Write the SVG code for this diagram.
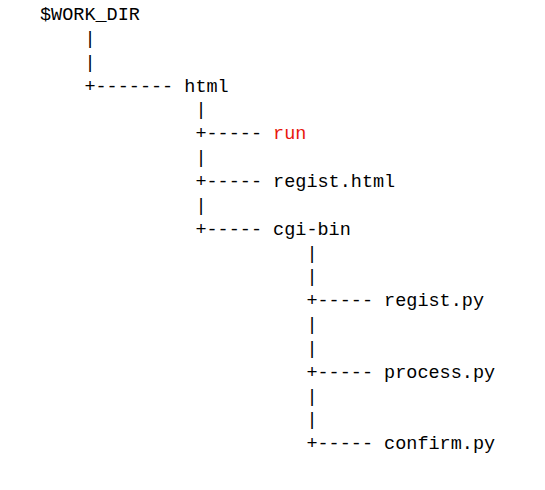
<svg xmlns="http://www.w3.org/2000/svg" width="545" height="490" viewBox="0 0 545 490">
<style>
text { font-family: "Liberation Mono", "DejaVu Sans Mono", monospace; font-size: 18.5px; fill: #000; white-space: pre; }
.red { fill: #e8160c; }
</style>
<rect width="545" height="490" fill="#fff"/>
<g id="connectors">
  <text x="84.4" y="43.8">|</text>
  <text x="84.4" y="67.7">|</text>
  <text x="84.4" y="91.5">+-------</text>
  <text x="195.4" y="115.4">|</text>
  <text x="195.4" y="139.2">+-----</text>
  <text x="195.4" y="163.1">|</text>
  <text x="195.4" y="186.9">+-----</text>
  <text x="195.4" y="210.8">|</text>
  <text x="195.4" y="234.6">+-----</text>
  <text x="306.4" y="258.5">|</text>
  <text x="306.4" y="282.3">|</text>
  <text x="306.4" y="306.2">+-----</text>
  <text x="306.4" y="330">|</text>
  <text x="306.4" y="353.9">|</text>
  <text x="306.4" y="377.7">+-----</text>
  <text x="306.4" y="401.6">|</text>
  <text x="306.4" y="425.4">|</text>
  <text x="306.4" y="449.3">+-----</text>
</g>
<g id="work_dir"><text x="40" y="20">$WORK_DIR</text></g>
<g id="html"><text x="184.3" y="91.5">html</text></g>
<g id="run"><text class="red" x="273.1" y="139.2">run</text></g>
<g id="regist_html"><text x="273.1" y="186.9">regist.html</text></g>
<g id="cgi_bin"><text x="273.1" y="234.6">cgi-bin</text></g>
<g id="regist_py"><text x="384.1" y="306.2">regist.py</text></g>
<g id="process_py"><text x="384.1" y="377.7">process.py</text></g>
<g id="confirm_py"><text x="384.1" y="449.3">confirm.py</text></g>
</svg>
